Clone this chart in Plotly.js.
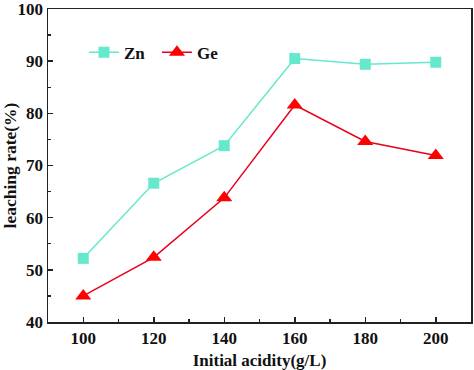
<!DOCTYPE html>
<html><head><meta charset="utf-8">
<script src="https://cdn.plot.ly/plotly-3.0.1.min.js"></script>
<style>html,body{margin:0;padding:0;background:#fff}#chart{width:474px;height:370px}</style>
</head><body><div id="chart"></div>
<script>
const acidity = [100, 120, 140, 160, 180, 200];
const znRate = [52.2, 66.6, 73.8, 90.5, 89.4, 89.8];
const geRate = [45.0, 52.4, 63.8, 81.6, 74.6, 71.9];
const xTicks = [100, 120, 140, 160, 180, 200];
const yTicks = [40, 50, 60, 70, 80, 90, 100];

const font = {family: '"Liberation Serif", "Times New Roman", serif', color: '#111'};
const traces = [
  {x: acidity, y: znRate, name: 'Zn', mode: 'lines+markers', type: 'scatter',
   line: {color: '#66E8CC', width: 1.5},
   marker: {symbol: 'square', size: 11, color: '#66E8CC'}},
  {x: acidity, y: geRate, name: 'Ge', mode: 'lines+markers', type: 'scatter',
   line: {color: '#E8001C', width: 1.5},
   marker: {symbol: 'triangle-up', size: 14, color: '#FF0000'}}
];
const layout = {
  width: 474, height: 370,
  margin: {l: 48, r: 3, t: 9, b: 48},
  paper_bgcolor: '#fff', plot_bgcolor: '#fff',
  showlegend: true,
  legend: {orientation: 'h', x: 0.085, y: 0.86, xanchor: 'left', yanchor: 'middle',
           font: Object.assign({size: 17, weight: 'bold'}, font), bgcolor: 'rgba(0,0,0,0)',
           itemwidth: 30, entrywidth: 28, entrywidthmode: 'pixels'},
  xaxis: {range: [90, 210], tickvals: xTicks, ticks: 'inside', ticklen: 5, tickwidth: 1.5,
          showline: true, linecolor: '#222', linewidth: 1.5, mirror: true, showgrid: false, zeroline: false,
          minor: {dtick: 10, ticks: 'inside', ticklen: 3, tickwidth: 1.2, tickcolor: '#222'},
          tickcolor: '#222', ticklabeloverflow: 'allow',
          tickfont: Object.assign({size: 17, weight: 'bold'}, font),
          title: {text: 'Initial acidity(g/L)', standoff: 10, font: Object.assign({size: 17, weight: 'bold'}, font)}},
  yaxis: {range: [40, 100], tickvals: yTicks, ticks: 'inside', ticklen: 5, tickwidth: 1.5,
          showline: true, linecolor: '#222', linewidth: 1.5, mirror: true, showgrid: false, zeroline: false,
          minor: {dtick: 5, ticks: 'inside', ticklen: 3, tickwidth: 1.2, tickcolor: '#222'},
          tickcolor: '#222', ticklabeloverflow: 'allow',
          tickfont: Object.assign({size: 17, weight: 'bold'}, font),
          title: {text: 'leaching rate(%)', standoff: 4, font: Object.assign({size: 17.5, weight: 'bold'}, font)}}
};
Plotly.newPlot('chart', traces, layout, {displayModeBar: false, staticPlot: true});
</script></body></html>
